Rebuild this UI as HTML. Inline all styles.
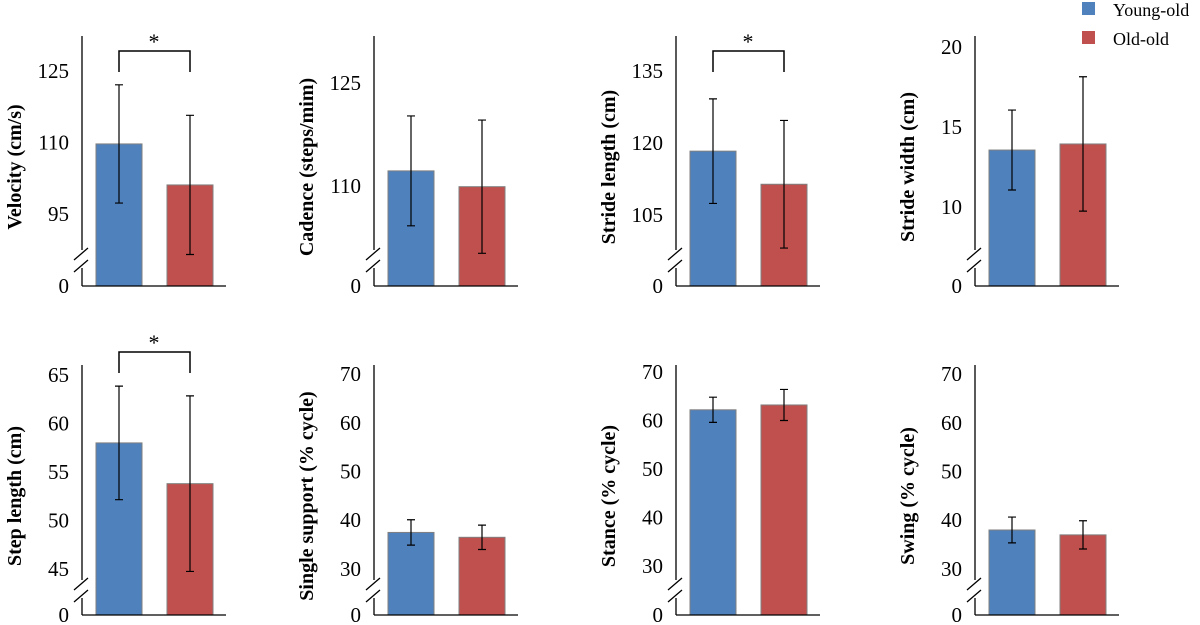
<!DOCTYPE html>
<html><head><meta charset="utf-8"><style>
body{margin:0;background:#fff;}
svg{display:block;font-family:"Liberation Serif",serif;}
</style></head><body>
<svg id="chart" width="1200" height="625" viewBox="0 0 1200 625">
<g>
<rect x="1082" y="2" width="13" height="13" fill="#4f81bd"/>
<text x="1113" y="16" font-size="18">Young-old</text>
<rect x="1082" y="31" width="13" height="13" fill="#c0504d"/>
<text x="1113" y="45" font-size="18">Old-old</text>
</g>
</svg>
<script>
const titles=["Velocity (cm/s)","Cadence (steps/mim)","Stride length (cm)","Stride width (cm)","Step length (cm)","Single support (% cycle)","Stance (% cycle)","Swing (% cycle)"];
const youngMean=[109.7,112.2,118.3,13.56,58.0,37.5,62.2,38.0];
const youngSD=[12.4,8.0,10.9,2.5,5.85,2.6,2.6,2.65];
const oldMean=[101.1,109.9,111.4,13.94,53.8,36.5,63.2,37.0];
const oldSD=[14.6,9.7,13.3,4.2,9.05,2.5,3.2,2.9];
const tickLabels=[[95,110,125],[110,125],[105,120,135],[10,15,20],[45,50,55,60,65],[30,40,50,60,70],[30,40,50,60,70],[30,40,50,60,70]];
const domains=[[87.45,132.34],[100.68,131.84],[97.7,142.3],[7.31,20.69],[43.87,66.03],[27.74,71.85],[27.1,71.44],[27.74,71.85]];
const significant=[true,false,true,false,true,false,false,false];
const svg=document.getElementById('chart');
const NS='http://www.w3.org/2000/svg';
function mk(tag,attrs,parent){const e=document.createElementNS(NS,tag);for(const k in attrs)e.setAttribute(k,attrs[k]);parent.appendChild(e);return e;}
const axisX=[82,374,676,975];
const rows=[{top:36,r0:250,r1:36,base:286,brk:258,by:51},{top:365,r0:580,r1:365,base:615,brk:588,by:352}];
for(let i=0;i<8;i++){
  const row=rows[Math.floor(i/4)],ax=axisX[i%4];
  const d=domains[i];
  const y=v=>row.r0+(v-d[0])/(d[1]-d[0])*(row.r1-row.r0);
  const g=mk('g',{},svg);
  
  
  const bars=[[youngMean[i],youngSD[i],'#4f81bd',ax+14,'young'],[oldMean[i],oldSD[i],'#c0504d',ax+85,'old']];
  bars.forEach(b=>{
    const r=mk('rect',{x:b[3],y:y(b[0]),width:46,height:row.base-y(b[0]),fill:b[2],stroke:'#7f7f7f','stroke-width':1},g);
    
    
    const cx=b[3]+23,yt=y(b[0]+b[1]),yb=y(b[0]-b[1]);
    const eb=mk('path',{d:`M${cx},${yt}V${yb}M${cx-4},${yt}H${cx+4}M${cx-4},${yb}H${cx+4}`,stroke:'#000','stroke-width':1.2,fill:'none'},g);
    
    
  });
  const ya=mk('path',{d:`M${ax},${row.top}V${row.brk-8}M${ax},${row.brk+10}V${row.base}M${ax-8},${row.brk+2}L${ax+6},${row.brk-10}M${ax-8},${row.brk+14}L${ax+6},${row.brk+2}`,stroke:'#000','stroke-width':1.3,fill:'none'},g);
  
  
  const xa=mk('line',{x1:ax,x2:ax+144,y1:row.base,y2:row.base,stroke:'#000','stroke-width':1.3},g);
  
  
  tickLabels[i].concat([0]).forEach(t=>{
    const ty=t===0?row.base:y(t);
    const tx=mk('text',{x:ax-13,y:ty+7,'font-size':21,'text-anchor':'end'},g);
    tx.textContent=t;
    
    
  });
  const cy=(row.top+row.base)/2+6;
  const tt=mk('text',{x:0,y:0,'font-size':20,'font-weight':'bold','text-anchor':'middle',transform:`translate(${ax-61},${cy}) rotate(-90)`},g);
  tt.textContent=titles[i];
  
  
  if(significant[i]){
    const by=row.by;
    const br=mk('path',{d:`M${ax+37},${by+21}V${by}H${ax+108}V${by+21}`,stroke:'#000','stroke-width':1.5,fill:'none'},g);
    
    
    const st=mk('text',{x:ax+72,y:by-2,'font-size':22,'text-anchor':'middle'},g);
    st.textContent='*';
    
    
  }
}
</script>
</body></html>
